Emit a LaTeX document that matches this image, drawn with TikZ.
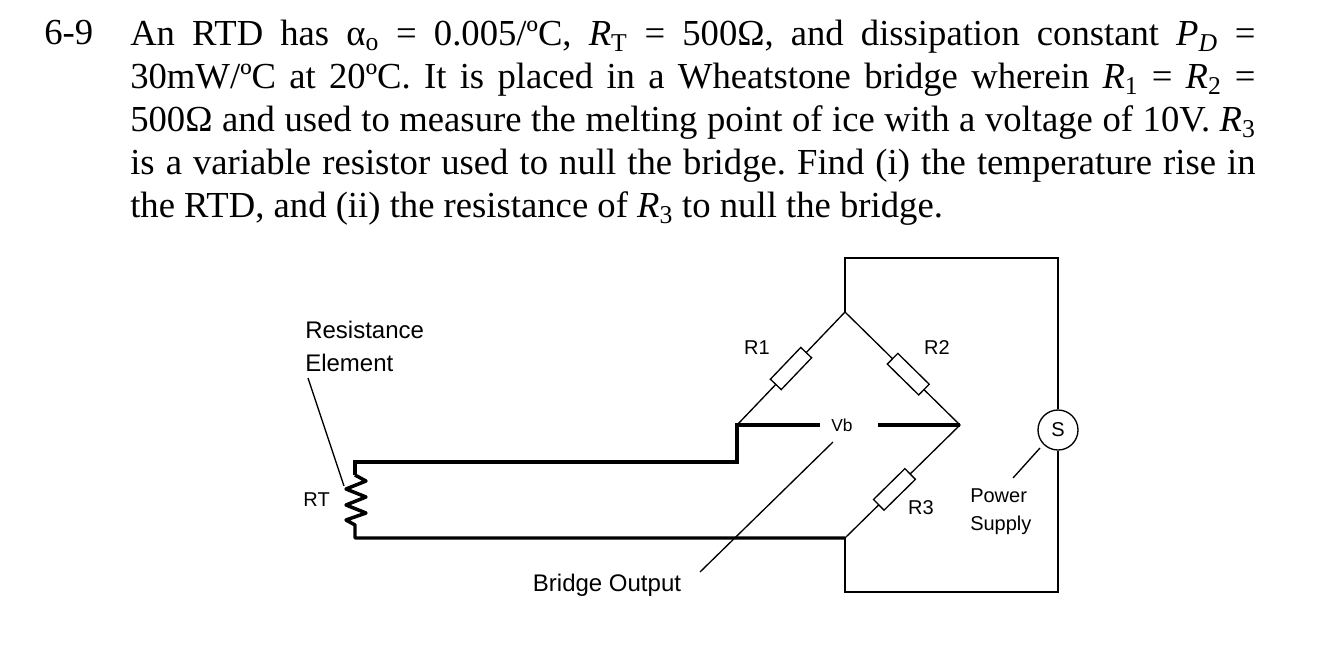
\documentclass[tikz,border=0pt]{standalone}
\usepackage{fontspec}
\usetikzlibrary{calc}
\setmainfont{Liberation Serif}
\newfontfamily\arial{Liberation Sans}
\begin{document}
\frenchspacing
\begin{tikzpicture}[x=0.75pt,y=-0.75pt,
  wire/.style={line width=1pt},
  thick wire/.style={line width=2.6pt},
  lbl/.style={font=\arial\fontsize{15}{18}\selectfont, inner sep=0pt},
  res/.style={draw, line width=1pt, fill=white, minimum width=44*0.75pt, minimum height=15*0.75pt, inner sep=0pt}]
\useasboundingbox (0,0) rectangle (1339,664);
% text
\node[anchor=north west, inner sep=0pt, font=\fontsize{27.5}{32.3}\selectfont] (n69) at (44,20) {6-9};
\node[anchor=north west, inner sep=0pt, text width=844pt, align=justify, font=\fontsize{27.5}{32.3}\selectfont] (txt) at (130,20)
{An RTD has α\textsubscript{o} = 0.005/ºC, \textit{R}\textsubscript{T} = 500Ω, and dissipation constant \textit{P\textsubscript{D}} =\linebreak
30mW/ºC at 20ºC. It is placed in a Wheatstone bridge wherein \textit{R}\textsubscript{1} = \textit{R}\textsubscript{2} =\linebreak
500Ω and used to measure the melting point of ice with a voltage of 10V. \textit{R}\textsubscript{3}\linebreak
is a variable resistor used to null the bridge. Find (i) the temperature rise in\linebreak
the RTD, and (ii) the resistance of \textit{R}\textsubscript{3} to null the bridge.\par};
% coordinates
\coordinate (T) at (845,312);
\coordinate (L) at (737,425);
\coordinate (Rv) at (960,425);
\coordinate (B) at (845,538);
\coordinate (TT) at (845,258);
\coordinate (TR) at (1058,258);
\coordinate (BR) at (1058,592);
\coordinate (BB) at (845,592);
\node[draw, circle, line width=1pt, minimum size=40*0.75pt, inner sep=0pt, fill=white, font=\arial\fontsize{15}{18}\selectfont] (S) at (1058,430) {S};
\draw[wire] (T) -- (TT) -- (TR) -- (S) -- (BR) -- (BB) -- (B);
\draw[wire] (L) -- (T) -- (Rv) -- (B);
\node[res, rotate=46.3] (r1) at ($(T)!0.5!(L)$) {};
\node[res, rotate=-44.5] (r2) at ($(T)!0.55!(Rv)$) {};
\node[res, rotate=44.5] (r3) at ($(Rv)!0.57!(B)$) {};
% thick wires
\coordinate (c1) at (737,462);
\coordinate (c2) at (355,462);
\coordinate (c3) at (355,538);
\coordinate (z1) at (355,475);
\coordinate (z2) at (355,525);
\draw[thick wire] (820,425) -- (L) -- (c1) -- (c2) -- (z1);
\draw[thick wire] (878,425) -- (Rv);
\draw[thick wire, line join=round] (z1) -- (366,481) -- (346,489) -- (366,497) -- (346,505) -- (366,513) -- (346,520) -- (z2) -- (c3) -- (B);
% labels
\node[lbl, font=\arial\fontsize{13}{16}\selectfont] (vb) at (842,425) {Vb};
\node[lbl] (l1) at (757,348) {R1};
\node[lbl] (l2) at (937,348) {R2};
\node[lbl] (l3) at (921,508) {R3};
\node[lbl, anchor=east] (lrt) at (330,500) {RT};
\node[lbl, align=left, anchor=north west, font=\arial\fontsize{18}{24.5}\selectfont] (re) at (305,321) {Resistance\\Element};
\node[lbl, align=left, anchor=north west, font=\arial\fontsize{15}{21}\selectfont] (ps) at (970,488) {Power\\Supply};
\node[lbl, font=\arial\fontsize{18}{21}\selectfont] (bo) at (607,585) {Bridge Output};
\coordinate (q1) at (308,378);
\coordinate (q2) at (344,486);
\draw[wire] (q1) -- (q2);
\coordinate (q3) at (700,572);
\coordinate (q4) at (833,442);
\draw[wire] (q3) -- (q4);
\coordinate (q5) at (1013,478);
\coordinate (q6) at (1040,448);
\draw[wire] (q5) -- (q6);
\end{tikzpicture}
\end{document}
